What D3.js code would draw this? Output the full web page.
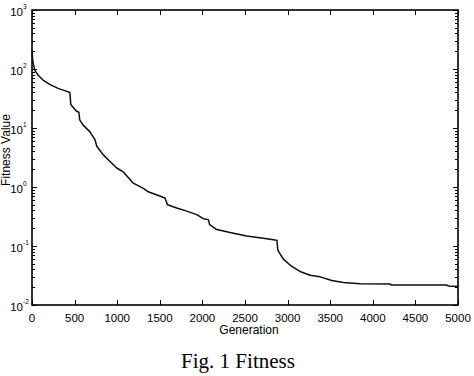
<!DOCTYPE html>
<html><head><meta charset="utf-8">
<script src="https://cdn.jsdelivr.net/npm/d3@7"></script>
<style>body{margin:0;background:#fff}svg{display:block}</style>
</head><body>
<svg id="c" width="474" height="376"></svg>
<script>
const generations = [0,10,32,70,129,208,305,384,445,455,520,550,560,600,681,740,760,837,916,994,1072,1189,1307,1365,1561,1590,1699,1816,1934,2011,2070,2085,2168,2324,2520,2715,2853,2875,2885,2950,3049,3146,3264,3381,3518,3655,3851,4203,4223,4869,4887,5000];
const fitness = [200,135,96,79,65,55,47,43,40,25,19.4,18.5,13.7,11.2,8.6,6.3,4.9,3.5,2.7,2.1,1.8,1.16,0.95,0.83,0.65,0.50,0.44,0.39,0.34,0.29,0.28,0.23,0.19,0.17,0.148,0.135,0.126,0.125,0.085,0.06,0.045,0.037,0.032,0.030,0.026,0.024,0.023,0.0227,0.0218,0.0218,0.021,0.0205];
const xTicks = [0,500,1000,1500,2000,2500,3000,3500,4000,4500,5000];
const yExponents = [-2,-1,0,1,2,3];
const xLabel = "Generation";
const yLabel = "Fitness Value";
const caption = "Fig. 1 Fitness";

const svg = d3.select("#c");
const L=32,R=458,T=10,B=305;
const x = d3.scaleLinear().domain([0,5000]).range([L,R]);
const y = d3.scaleLog().domain([1e-2,1e3]).range([B,T]);
const font = "'Liberation Sans', Arial, Helvetica, sans-serif";

// minor/major y ticks (left and right, inward)
const yAll = y.ticks();
const tickG = svg.append("g").attr("stroke","#000").attr("stroke-width",1);
yAll.forEach(v=>{
  const major = Math.abs(Math.log10(v)-Math.round(Math.log10(v)))<1e-9;
  const len = major?5:3;
  const yy = Math.round(y(v))+0.5;
  tickG.append("line").attr("x1",L).attr("x2",L+len).attr("y1",yy).attr("y2",yy);
  tickG.append("line").attr("x1",R).attr("x2",R-len).attr("y1",yy).attr("y2",yy);
});
xTicks.forEach(v=>{
  const xx = Math.round(x(v))+0.5;
  tickG.append("line").attr("x1",xx).attr("x2",xx).attr("y1",B).attr("y2",B-5);
  tickG.append("line").attr("x1",xx).attr("x2",xx).attr("y1",T).attr("y2",T+5);
});

// frame
svg.append("rect").attr("x",L).attr("y",T).attr("width",R-L).attr("height",B-T)
  .attr("fill","none").attr("stroke","#000").attr("stroke-width",1.6);

// x tick labels
svg.append("g").selectAll("text").data(xTicks).join("text")
  .attr("x",d=>x(d)).attr("y",B+17).attr("text-anchor","middle")
  .attr("font-family",font).attr("font-size",11.5).text(d=>d);

// y tick labels
svg.append("g").selectAll("text").data(yExponents).join("text")
  .attr("x",23).attr("y",d=>y(Math.pow(10,d))+6).attr("text-anchor","end")
  .attr("font-family",font).attr("font-size",11.5).text("10");
svg.append("g").selectAll("text").data(yExponents).join("text")
  .attr("x",23).attr("y",d=>y(Math.pow(10,d))-1).attr("text-anchor","start")
  .attr("font-family",font).attr("font-size",6.5).text(d=>d);

// axis labels
svg.append("text").attr("x",249).attr("y",334).attr("text-anchor","middle")
  .attr("font-family",font).attr("font-size",12).text(xLabel);
svg.append("text").attr("transform","translate(9.5,150) rotate(-90)").attr("text-anchor","middle")
  .attr("font-family",font).attr("font-size",12).text(yLabel);

// curve
const line = d3.line().x((d,i)=>x(generations[i])).y(d=>y(d));
svg.append("path").attr("d",line(fitness)).attr("fill","none")
  .attr("stroke","#1a0808").attr("stroke-width",1.5).attr("stroke-linejoin","round");

// caption
svg.append("text").attr("x",238).attr("y",368).attr("text-anchor","middle")
  .attr("font-family","'Liberation Serif','Times New Roman',serif").attr("font-size",21).text(caption);
</script>
</body></html>
